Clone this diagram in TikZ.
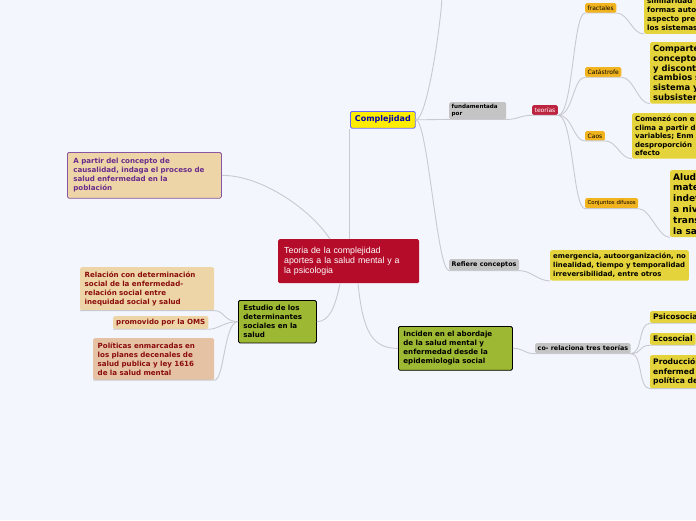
\documentclass[tikz,border=0pt]{standalone}
\usepackage{fontspec}
\setmainfont{DejaVu Sans}
\newfontfamily\arialfont{Liberation Sans}
\usepackage{xcolor}
\definecolor{bg_blue}{HTML}{F4F6FE}
\definecolor{main_red}{HTML}{B50C2A}
\definecolor{leaf_yellow}{HTML}{E4D33A}
\definecolor{sub_orange}{HTML}{F2B41E}
\definecolor{mid_green}{HTML}{9DB832}
\definecolor{tan_fill}{HTML}{EDD5A8}
\definecolor{rose_fill}{HTML}{E6C2A4}
\definecolor{label_gray}{HTML}{C4C4C4}
\definecolor{link_gray}{HTML}{C8CAD0}
\definecolor{dark_red}{HTML}{8A0C0C}
\definecolor{deep_purple}{HTML}{6A2C8C}

\tikzset{
	box/.style={anchor=north west, inner sep=3pt, rounded corners=1.5pt, align=left,
		font=\bfseries\fontsize{7.1}{9}\selectfont},
	leaf/.style={box, fill=leaf_yellow, font=\bfseries\fontsize{7.6}{9.8}\selectfont},
	sub/.style={box, fill=sub_orange, inner sep=2.5pt, font=\fontsize{6}{7}\selectfont},
	tag/.style={box, fill=label_gray, inner sep=2.5pt, font=\bfseries\fontsize{6.4}{7.4}\selectfont},
	green/.style={box, fill=mid_green, draw=black, line width=0.8pt, inner sep=5pt},
	link/.style={draw=link_gray, line width=0.9pt},
}

\begin{document}
\begin{tikzpicture}[x=1pt, y=-1pt]
	\fill[bg_blue] (0,0) rectangle (696,520);
	\useasboundingbox (0,0) rectangle (696,520);
	\clip (0,0) rectangle (696,520);

	% nodes
	\node[box, fill=main_red, text=white, text width=129pt, minimum height=44pt, inner sep=6pt,
		font=\arialfont\fontsize{8.8}{10.4}\selectfont] (root) at (278,239)
		{Teoria de la complejidad\\aportes a la salud mental y a\\la psicologia};
	\node[box, fill=yellow!95!orange, draw=blue!60, line width=0.8pt, text=blue!70!black,
		font=\bfseries\fontsize{8}{9}\selectfont, inner sep=4.5pt] (compl) at (350,111) {Complejidad};
	\node[box, fill=tan_fill, draw=deep_purple!80, line width=0.8pt, text=deep_purple,
		text width=142pt, inner sep=6pt] (causal) at (67,152)
		{A partir del concepto de\\causalidad, indaga el proceso de\\salud enfermedad en la\\poblaci\'on};
	\node[green, text width=68pt] (estudio) at (238,300) {Estudio de los\\determinantes\\sociales en la\\salud};
	\node[box, fill=tan_fill, text=dark_red, text width=125pt, inner sep=4.5pt] (relac) at (80,267)
		{Relaci\'on con determinaci\'on\\social de la enfermedad-\\relaci\'on social entre\\inequidad social y salud};
	\node[box, fill=tan_fill, text=dark_red, inner sep=3pt] (oms) at (113,316) {promovido por la OMS};
	\node[box, fill=rose_fill, text=dark_red, text width=112pt, inner sep=4.5pt] (polit) at (93,338)
		{Pol\'iticas enmarcadas en\\los planes decenales de\\salud publica y ley 1616\\de la salud mental};
	\node[green, text width=104pt] (incide) at (398,326)
		{Inciden en el abordaje\\de la salud mental y\\enfermedad desde la\\epidemiologia social};
	\node[tag] (corel) at (535,343) {co- relaciona tres teor\'ias};
	\node[leaf] (psico) at (650,311) {Psicosocial};
	\node[leaf] (ecos) at (650,333) {Ecosocial};
	\node[leaf] (prod) at (650,355) {Producci\'on\\enfermed\\pol\'itica de};
	\node[tag] (refiere) at (449,259) {Refiere conceptos};
	\node[leaf, font=\bfseries\fontsize{6.9}{9}\selectfont] (emerg) at (550,250)
		{emergencia, autoorganizaci\'on, no\\linealidad, tiempo y temporalidad\\irreversibilidad, entre otros};
	\node[tag, font=\bfseries\fontsize{5.6}{6.6}\selectfont, text width=52pt] (fund) at (449,102) {fundamentada por};
	\node[sub, fill=main_red!90, text=white] (teor) at (532,105) {teor\'ias};
	\node[sub] (fract) at (585,3) {fractales};
	\node[sub] (catas) at (585,67) {Cat\'astrofe};
	\node[sub] (caos) at (585,131) {Caos};
	\node[sub, font=\fontsize{5.4}{6.4}\selectfont] (difus) at (585,198) {Conjuntos difusos};
	\node[leaf, font=\bfseries\fontsize{7.2}{9}\selectfont] (fractx) at (644,-5)
		{similaridad\\formas auto\\aspecto pre\\los sistemas};
	\node[leaf, font=\bfseries\fontsize{8.4}{9.8}\selectfont] (catasx) at (650,42)
		{Comparte\\conceptos\\y disconti\\cambios s\\sistema y\\subsisten};
	\node[leaf, font=\bfseries\fontsize{7}{8.4}\selectfont] (caosx) at (632,113)
		{Comenz\'o con e\\clima a partir d\\variables; Enm\\desproporci\'on\\efecto};
	\node[leaf, font=\bfseries\fontsize{9}{10.8}\selectfont] (difusx) at (670,170)
		{Alude\\mate\\indet\\a niv\\trans\\la sa};

	% connectors
	\path (root.north west) ++(71,0) coordinate (rtop);
	\path (root.north west) ++(52,0) coordinate (rtop2);
	\draw[link] (rtop) -- (rtop |- compl.south);
	\draw[link] (rtop2) .. controls +(-20,-30) and +(40,0) .. (causal.east);
	\draw[link] (root.south west) ++(62,0) .. controls +(-5,25) and +(12,0) .. (estudio.east);
	\draw[link] (root.south west) ++(80,0) .. controls +(5,50) and +(-25,0) .. (incide.west);
	\foreach \t in {relac, oms, polit}{
		\draw[link] (estudio.west) .. controls +(-14,0) and +(10,0) .. (\t.south east) -- (\t.south west);
	}
	\draw[link] (incide.east) .. controls +(12,0) and +(-12,0) .. (corel.south west) -- (corel.south east);
	\foreach \t in {psico, ecos, prod}{
		\draw[link] (corel.south east) .. controls +(12,0) and +(-12,0) .. (\t.south west) -- (\t.south east);
	}
	\draw[link] (compl.east) .. controls +(12,0) and +(0,20) .. (442,-5);
	\draw[link] (compl.east) .. controls +(12,0) and +(-12,0) .. (refiere.south west) -- (refiere.south east);
	\draw[link] (compl.east) .. controls +(12,0) and +(-12,0) .. (fund.south west) -- (fund.south east);
	\draw[link] (refiere.south east) .. controls +(12,0) and +(-12,0) .. (emerg.south west);
	\draw[link] (fund.south east) .. controls +(12,0) and +(-12,0) .. (teor.south west) -- (teor.south east);
	\foreach \t/\x in {fract/fractx, catas/catasx, caos/caosx, difus/difusx}{
		\draw[link] (teor.south east) .. controls +(15,0) and +(-12,0) .. (\t.south west) -- (\t.south east);
		\draw[link] (\t.south east) .. controls +(12,0) and +(-12,0) .. (\x.south west);
	}
\end{tikzpicture}
\end{document}
